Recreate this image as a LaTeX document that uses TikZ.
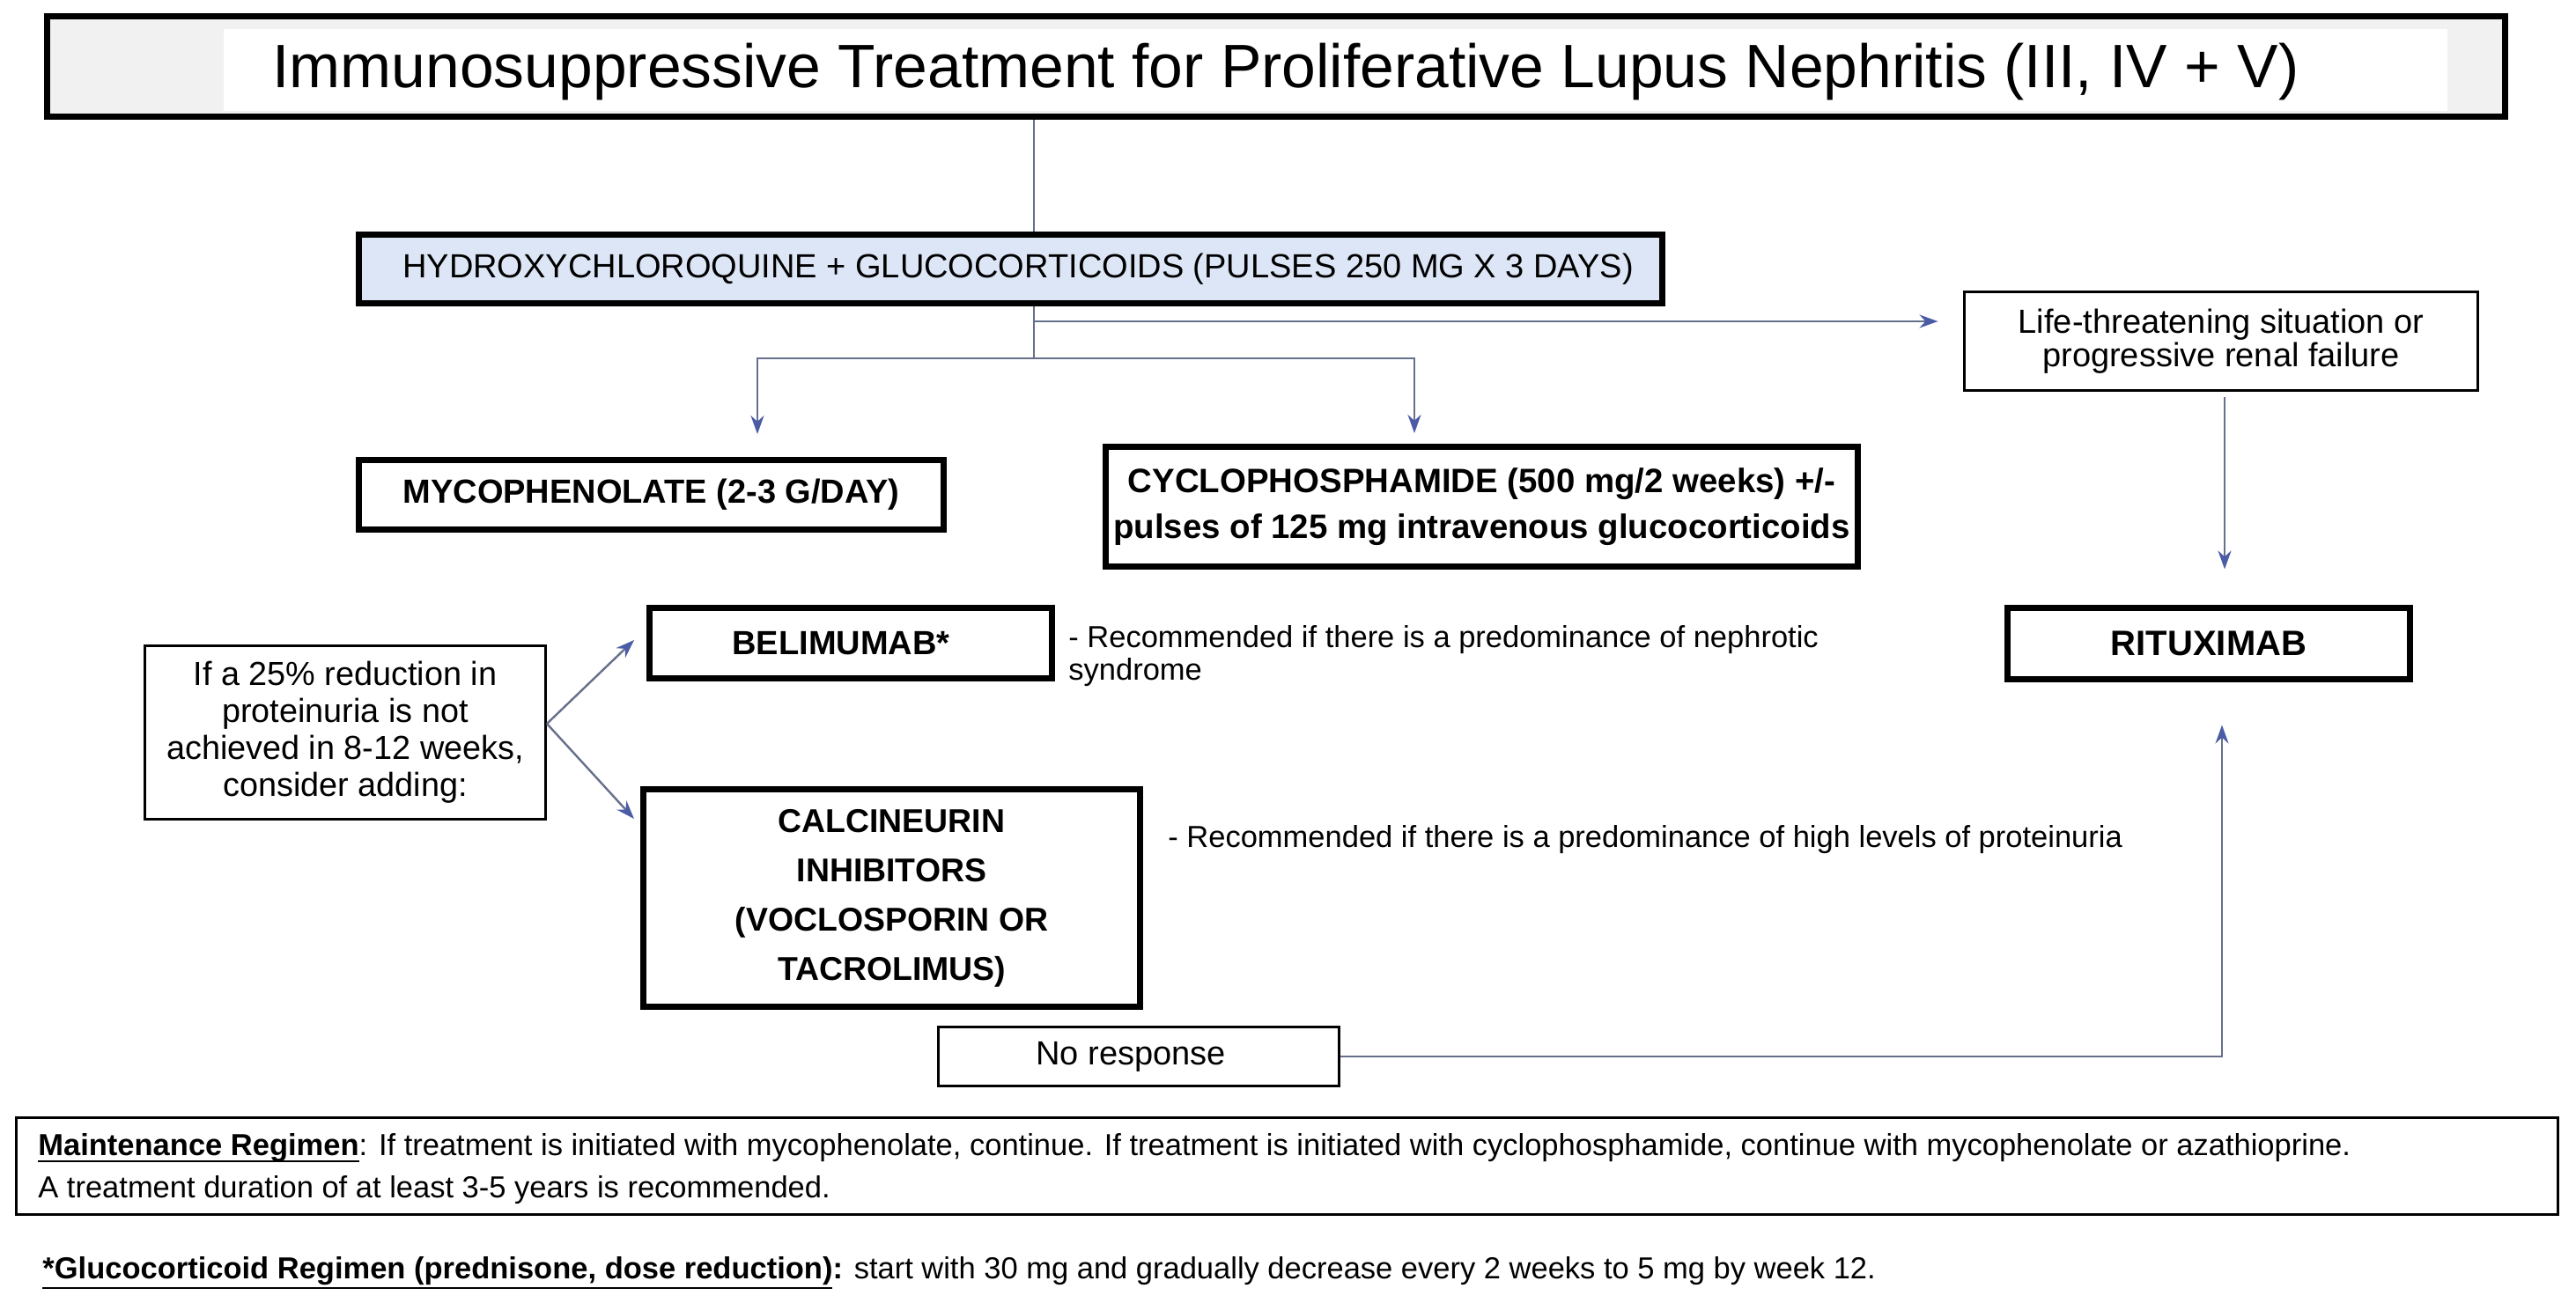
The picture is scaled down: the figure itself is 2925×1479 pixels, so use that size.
\documentclass[tikz,border=0pt]{standalone}
\usepackage{fontspec}
\setmainfont{Liberation Sans}
\usetikzlibrary{arrows.meta}
\definecolor{connc}{HTML}{66708A}
\definecolor{tipc}{HTML}{4B5BA6}
\definecolor{hcqfill}{HTML}{DCE6F6}
\definecolor{titlegray}{HTML}{F1F1F1}
\newcommand{\myul}[2]{\setbox0\hbox{#2}\rlap{\rule[#1]{\wd0}{1pt}}\box0}
\begin{document}
\begin{tikzpicture}[x=0.5pt, y=-0.5pt,
  thickbox/.style={draw=black, line width=3.5pt, fill=white, inner sep=0pt, align=center},
  thinbox/.style={draw=black, line width=1.5pt, fill=white, inner sep=0pt, align=center},
  conn/.style={draw=connc, line width=1.2pt},
  arr/.style={conn, -{Stealth[length=10.5pt, width=7.5pt, color=tipc]}},
  boxfont/.style={font=\fontsize{19}{22}\selectfont},
  boldfont/.style={font=\fontsize{19}{22}\selectfont\bfseries},
  notefont/.style={font=\fontsize{17.25}{18.5}\selectfont},
  ]
\useasboundingbox (0,0) rectangle (2925,1479);
\fill[white] (0,0) rectangle (2925,1479);

% title
\fill[titlegray] (53,18) rectangle (2845,133);
\fill[white] (254,33) rectangle (2779,126);
\node[thickbox, fill=none, minimum width=1395.5pt, minimum height=57pt] (title) at (1449,75.5) {};
\node[anchor=base, inner sep=0pt, font=\fontsize{34.8}{40}\selectfont] (titletext) at (1460,99)
  {Immunosuppressive Treatment for Proliferative Lupus Nephritis (III, IV + V)};

% boxes
\node[thickbox, fill=hcqfill, minimum width=740pt, minimum height=39pt, boxfont] (hcq) at (1147.5,305.5)
  {\kern8.5pt HYDROXYCHLOROQUINE + GLUCOCORTICOIDS (PULSES 250 MG X 3 DAYS)};
\node[thinbox, minimum width=291.5pt, minimum height=56pt, font=\fontsize{19}{19}\selectfont] (life) at (2522,387.5)
  {Life-threatening situation or\\progressive renal failure};
\node[thickbox, minimum width=332pt, minimum height=39.5pt, boldfont] (myco) at (739.5,562)
  {MYCOPHENOLATE (2-3 G/DAY)};
\node[thickbox, minimum width=427pt, minimum height=68pt, font=\fontsize{19.2}{26}\selectfont\bfseries] (cyclo) at (1682.5,575.5)
  {CYCLOPHOSPHAMIDE (500 mg/2 weeks) +/-\\pulses of 125 mg intravenous glucocorticoids};
\node[thickbox, minimum width=228.5pt, minimum height=40pt, boldfont] (beli) at (966,730.5)
  {BELIMUMAB*\kern11pt};
\node[thickbox, minimum width=228.5pt, minimum height=40.5pt, font=\fontsize{20}{22}\selectfont\bfseries] (ritux) at (2508,731)
  {RITUXIMAB};
\node[thinbox, minimum width=227.5pt, minimum height=98.5pt, font=\fontsize{18.9}{21}\selectfont] (ifbox) at (392,832)
  {If a 25\% reduction in\\proteinuria is not\\achieved in 8-12 weeks,\\consider adding:};
\node[thickbox, minimum width=282pt, minimum height=123.5pt, font=\fontsize{18.7}{28}\selectfont\bfseries] (calc) at (1012.5,1020)
  {CALCINEURIN\\INHIBITORS\\(VOCLOSPORIN OR\\TACROLIMUS)};
\node[thinbox, minimum width=227.5pt, minimum height=33.5pt, boxfont] (noresp) at (1293,1200)
  {No response\kern9pt};

% side notes
\node[anchor=base west, inner sep=0pt, notefont] (rec1) at (1213,735)
  {\begin{tabular}[t]{@{}l@{}}- Recommended if there is a predominance of nephrotic\\syndrome\end{tabular}};
\node[anchor=base west, inner sep=0pt, notefont] (rec2) at (1326,962)
  {- Recommended if there is a predominance of high levels of proteinuria};

% maintenance
\node[thinbox, minimum width=1443pt, minimum height=55pt] (maint) at (1461.5,1324.5) {};
\node[anchor=base west, inner sep=0pt, font=\fontsize{17.25}{24}\selectfont] (mainttext) at (43,1312)
  {\begin{tabular}[t]{@{}l@{}}\myul{-4pt}{\textbf{Maintenance Regimen}}: If treatment is initiated with mycophenolate, continue. If treatment is initiated with cyclophosphamide, continue with mycophenolate or azathioprine.\\A treatment duration of at least 3-5 years is recommended.\end{tabular}};
\node[anchor=base west, inner sep=0pt, notefont] (gluco) at (48,1452)
  {\myul{-6pt}{\textbf{*Glucocorticoid Regimen (prednisone, dose reduction)}}\textbf{:} start with 30 mg and gradually decrease every 2 weeks to 5 mg by week 12.};

% connectors
\coordinate (tx) at (1174,0);
\coordinate (j1) at (1174,365);
\coordinate (b) at (1174,407);
\coordinate (mt) at (860,493);
\coordinate (ct) at (1606,492);
\coordinate (rx) at (2526,0);
\coordinate (ry) at (2523,0);
\coordinate (ifo) at (621,822);
\coordinate (bt) at (720,727);
\coordinate (calt) at (720,930);

\draw[conn] (title.south -| tx) -- (hcq.north -| tx);
\draw[conn] (hcq.south -| b) -- (b);
\draw[arr] (b) -| (mt);
\draw[arr] (b) -| (ct);
\draw[arr, shorten >=14.25pt] (j1) -- (j1 -| life.west);
\draw[arr, shorten <=3pt, shorten >=20.25pt] (life.south -| rx) -- (ritux.north -| rx);
\draw[arr, shorten >=24.25pt] (noresp.east) -| (ritux.south -| ry);
\draw[arr] (ifo) -- (bt);
\draw[arr] (ifo) -- (calt);
\end{tikzpicture}
\end{document}
